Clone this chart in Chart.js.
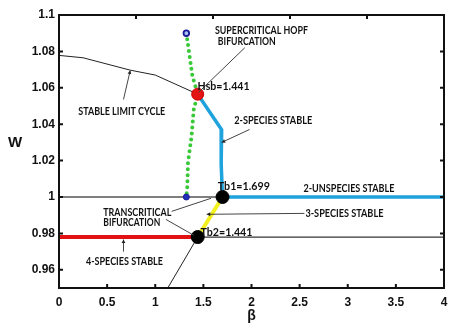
<!DOCTYPE html>
<html>
<head>
<meta charset="utf-8">
<script src="https://cdn.jsdelivr.net/npm/chart.js@4.4.1/dist/chart.umd.min.js"></script>
<style>
  html, body { margin: 0; padding: 0; background: #fff; }
  #diagrama { display: block; }
</style>
</head>
<body>
<canvas id="diagrama" width="474" height="325"></canvas>
<script>
// Diagrama de bifurcación W vs beta

// ticks de los ejes
const betaTicks = [0, 0.5, 1, 1.5, 2, 2.5, 3, 3.5, 4];
const wTicks = [0.96, 0.98, 1, 1.02, 1.04, 1.06, 1.08, 1.1];
const betaTopMarks = [0.8, 1.6, 2.4, 3.2];

// puntos de bifurcación
const hsb = 1.441, hsbW = 1.0565;
const tb1 = 1.699, tb1W = 1.0;
const tb2 = 1.441, tb2W = 0.978;

// ciclo límite estable (negro)
const cicloBeta = [0, 0.25, 0.74, 1.0, hsb];
const cicloW = [1.0778, 1.0765, 1.0697, 1.067, hsbW];

// rama punteada (verde)
const verdeBeta = [1.323, 1.35, 1.386, hsb, 1.40, 1.376, 1.34, 1.333, 1.323];
const verdeW = [1.09, 1.08, 1.0664, hsbW, 1.0481, 1.0328, 1.019, 1.006, 1.0];

// 2 especies estable (azul)
const azulBeta = [hsb, 1.69, 1.685, tb1, 4];
const azulW = [hsbW, 1.037, 1.018, tb1W, tb1W];

// 3 especies (amarillo) y 4 especies (rojo)
const amarilloBeta = [tb2, tb1];
const amarilloW = [tb2W, tb1W];
const rojoBeta = [0, tb2];
const rojoW = [tb2W, tb2W];

// líneas negras
const lineaUnoBeta = [0, 4];
const lineaUnoW = [1.0, 1.0];
const lineaBajaBeta = [0, 4];
const lineaBajaW = [tb2W, tb2W];
const diagBeta = [tb2, 1.13];
const diagW = [tb2W, 0.95];

// extremos de la rama verde
const extremoSupBeta = [1.323];
const extremoSupW = [1.09];
const extremoInfBeta = [1.323];
const extremoInfW = [1.0];

const pts = (xs, ys) => xs.map((x, i) => ({ x: x, y: ys[i] }));

// textos y flechas (en coordenadas de datos)
const notas = [
  { t: 'SUPERCRITICAL HOPF', b: 1.62, w: 1.0915, ancho: 93, f: 11 },
  { t: 'BIFURCATION', b: 1.65, w: 1.0855, ancho: 58, f: 11 },
  { t: 'Hsb=1.441', b: 1.44, w: 1.0608, ancho: 52, f: 12 },
  { t: 'STABLE LIMIT CYCLE', b: 0.2, w: 1.047, ancho: 87, f: 11 },
  { t: '2-SPECIES STABLE', b: 1.82, w: 1.042, ancho: 78, f: 11 },
  { t: 'Tb1=1.699', b: 1.65, w: 1.0059, ancho: 52, f: 12 },
  { t: '2-UNSPECIES STABLE', b: 2.54, w: 1.0048, ancho: 91, f: 11 },
  { t: '3-SPECIES STABLE', b: 2.56, w: 0.991, ancho: 78, f: 11 },
  { t: 'Tb2=1.441', b: 1.47, w: 0.9806, ancho: 52, f: 12 },
  { t: 'TRANSCRITICAL', b: 0.46, w: 0.9916, ancho: 68, f: 11 },
  { t: 'BIFURCATION', b: 0.46, w: 0.9861, ancho: 57, f: 11 },
  { t: '4-SPECIES STABLE', b: 0.28, w: 0.9646, ancho: 77, f: 11 }
];

const flechas = [
  { de: [1.93, 1.082], a: [1.45, 1.0575], punta: false },
  { de: [0.67, 1.0536], a: [0.74, 1.0695], punta: true },
  { de: [1.98, 1.0371], a: [1.69, 1.030], punta: true },
  { de: [2.55, 0.991], a: [1.535, 0.9905], punta: true },
  { de: [1.17, 0.9921], a: [1.58, 0.9993], punta: false },
  { de: [1.11, 0.9877], a: [1.40, 0.979], punta: false },
  { de: [0.67, 0.970], a: [0.67, 0.9766], punta: true }
];

const marco = {
  id: 'marco',
  afterDatasetsDraw(chart) {
    const { ctx, chartArea: ca, scales: { x, y } } = chart;
    ctx.save();
    // borde
    ctx.strokeStyle = '#111';
    ctx.lineWidth = 2;
    ctx.strokeRect(ca.left, ca.top, ca.right - ca.left, ca.bottom - ca.top);
    // ticks hacia dentro
    ctx.beginPath();
    betaTicks.slice(1, -1).forEach(v => {
      const px = x.getPixelForValue(v);
      ctx.moveTo(px, ca.bottom); ctx.lineTo(px, ca.bottom - 4);
    });
    betaTopMarks.forEach(v => {
      const px = x.getPixelForValue(v);
      ctx.moveTo(px, ca.top); ctx.lineTo(px, ca.top + 4);
    });
    wTicks.slice(0, -1).forEach(v => {
      const py = y.getPixelForValue(v);
      ctx.moveTo(ca.left, py); ctx.lineTo(ca.left + 4, py);
      ctx.moveTo(ca.right, py); ctx.lineTo(ca.right - 4, py);
    });
    ctx.stroke();

    // flechas
    ctx.strokeStyle = '#444';
    ctx.fillStyle = '#222';
    ctx.lineWidth = 1;
    flechas.forEach(f => {
      const x0 = x.getPixelForValue(f.de[0]), y0 = y.getPixelForValue(f.de[1]);
      const x1 = x.getPixelForValue(f.a[0]), y1 = y.getPixelForValue(f.a[1]);
      ctx.beginPath(); ctx.moveTo(x0, y0); ctx.lineTo(x1, y1); ctx.stroke();
      if (f.punta) {
        const ang = Math.atan2(y1 - y0, x1 - x0);
        ctx.beginPath();
        ctx.moveTo(x1, y1);
        ctx.lineTo(x1 - 4 * Math.cos(ang - 0.5), y1 - 4 * Math.sin(ang - 0.5));
        ctx.lineTo(x1 - 4 * Math.cos(ang + 0.5), y1 - 4 * Math.sin(ang + 0.5));
        ctx.closePath(); ctx.fill();
      }
    });

    // textos
    ctx.fillStyle = '#111';
    ctx.textBaseline = 'middle';
    ctx.textAlign = 'left';
    notas.forEach(n => {
      ctx.font = 'bold ' + n.f + 'px Lato, sans-serif';
      ctx.fillText(n.t, x.getPixelForValue(n.b), y.getPixelForValue(n.w), n.ancho);
    });

    // título del eje W (sin rotar)
    ctx.font = 'bold 15px "Liberation Sans", Arial, sans-serif';
    ctx.textAlign = 'center';
    ctx.fillText('W', 15, (ca.top + ca.bottom) / 2 - 9);
    ctx.restore();
  }
};

const serie = (data, color, ancho, extra) => Object.assign({
  data: data, showLine: true, borderColor: color, borderWidth: ancho,
  pointRadius: 0, fill: false, tension: 0
}, extra || {});

const fuenteTicks = { family: '"Liberation Sans", Arial, sans-serif', size: 12, weight: 'bold' };

new Chart(document.getElementById('diagrama').getContext('2d'), {
  type: 'scatter',
  data: {
    datasets: [
      // puntos encima de todo
      { data: [{ x: hsb, y: hsbW }], pointRadius: 6, backgroundColor: '#e41414', borderColor: '#c00', borderWidth: 1 },
      { data: [{ x: tb1, y: tb1W }, { x: tb2, y: tb2W }], pointRadius: 6.5, backgroundColor: '#000', borderColor: '#000' },
      { data: pts(extremoSupBeta, extremoSupW), pointRadius: 2.8, backgroundColor: '#a8c4f0', borderColor: '#1a1a9a', borderWidth: 1.8 },
      { data: pts(extremoInfBeta, extremoInfW), pointRadius: 3, backgroundColor: '#2030b8', borderColor: '#1a1a9a', borderWidth: 1 },
      serie(pts(verdeBeta, verdeW), '#38c838', 4, { borderDash: [0, 6], borderCapStyle: 'round' }),
      serie(pts(azulBeta, azulW), '#1fa3dc', 3.5),
      serie(pts(amarilloBeta, amarilloW), '#f2f01e', 4),
      serie(pts(rojoBeta, rojoW), '#e01212', 4),
      serie(pts(cicloBeta, cicloW), '#222', 1),
      serie(pts(diagBeta, diagW), '#222', 1),
      serie(pts(lineaUnoBeta, lineaUnoW), '#555', 1.6),
      serie(pts(lineaBajaBeta, lineaBajaW), '#333', 1.2)
    ]
  },
  options: {
    responsive: false,
    animation: false,
    layout: { padding: { top: 15, right: 30, left: 0, bottom: 0 } },
    plugins: { legend: { display: false }, tooltip: { enabled: false } },
    scales: {
      x: {
        type: 'linear', min: 0, max: 4,
        afterBuildTicks(s) { s.ticks = betaTicks.map(v => ({ value: v })); },
        ticks: { padding: 7, maxRotation: 0, autoSkip: false, color: '#111',
                 font: fuenteTicks, callback: v => String(v) },
        grid: { display: false, drawTicks: false },
        border: { display: false },
        title: { display: true, text: 'β', color: '#111', padding: { top: 0, bottom: 0 },
                 font: { family: '"Liberation Sans", Arial, sans-serif', size: 14, weight: 'bold' } },
        afterFit(s) { s.height = 37; }
      },
      y: {
        type: 'linear', min: 0.95, max: 1.1,
        afterBuildTicks(s) { s.ticks = wTicks.map(v => ({ value: v })); },
        ticks: { padding: 4, color: '#111', font: fuenteTicks, callback: v => String(v) },
        grid: { display: false, drawTicks: false },
        border: { display: false },
        afterFit(s) { s.width = 59; }
      }
    }
  },
  plugins: [marco]
});
</script>
</body>
</html>
